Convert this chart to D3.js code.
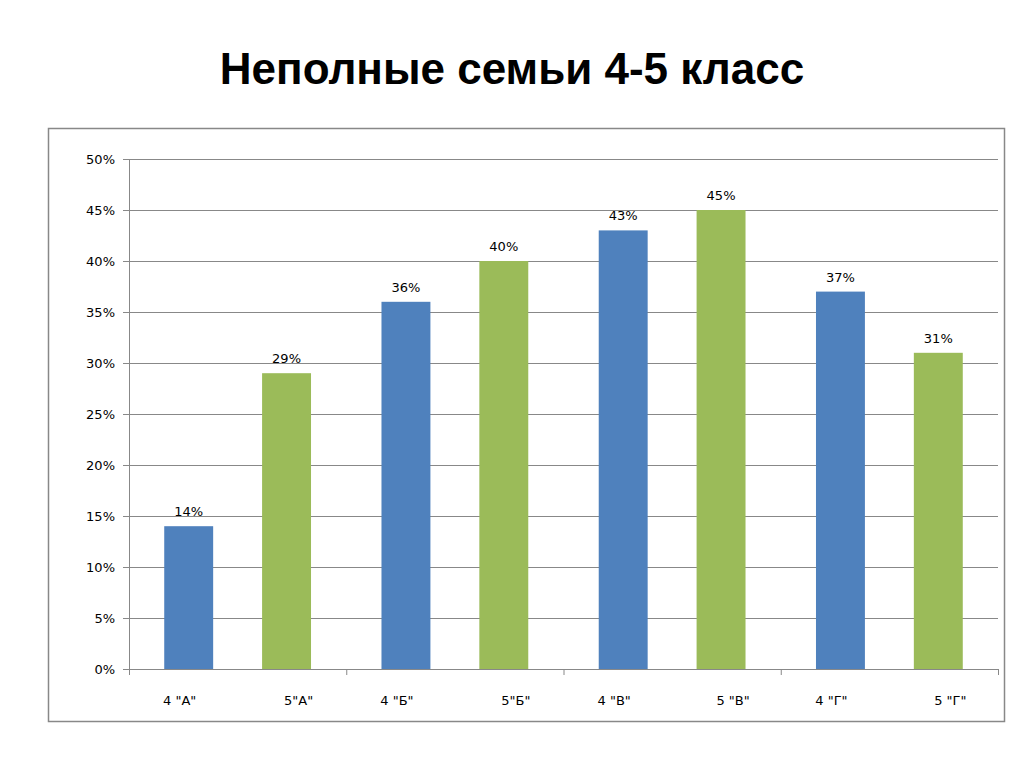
<!DOCTYPE html>
<html><head><meta charset="utf-8">
<script src="https://cdn.jsdelivr.net/npm/d3@7"></script>
<style>body{margin:0;background:#fff}</style></head>
<body><svg id="c" width="1024" height="767"></svg>
<script>
const groups = ["А","Б","В","Г"];
const labels4 = ['4 "А"','4 "Б"','4 "В"','4 "Г"'];
const labels5 = ['5"А"','5"Б"','5 "В"','5 "Г"'];
const values4 = [14, 36, 43, 37];
const values5 = [29, 40, 45, 31];
const yTicks = [0,5,10,15,20,25,30,35,40,45,50];

const svg = d3.select("#c");
svg.append("text").attr("x",512).attr("y",84).attr("text-anchor","middle")
  .attr("font-family","Liberation Sans, Arial").attr("font-weight","bold").attr("font-size",44)
  .text("Неполные семьи 4-5 класс");
svg.append("rect").attr("x",48.5).attr("y",128.5).attr("width",956).attr("height",593)
  .attr("fill","none").attr("stroke","#888").attr("stroke-width",1.5);

const L=129,R=998,T=159,B=669;
const y = d3.scaleLinear().domain([0,50]).range([B,T]);
const x0 = d3.scaleBand().domain(groups).range([L,R]);
const x1 = d3.scaleBand().domain(["4","5"]).range([0,x0.bandwidth()]).paddingInner(0.5).paddingOuter(0.36);
const font="DejaVu Sans, Verdana, sans-serif";

svg.append("g").selectAll("line").data(yTicks).join("line")
  .attr("x1",L-6).attr("x2",R).attr("y1",d=>y(d)+0.5).attr("y2",d=>y(d)+0.5)
  .attr("stroke",d=>d===0?"#888":"#888").attr("stroke-width",1);
svg.append("g").selectAll("text").data(yTicks).join("text")
  .attr("x",L-14).attr("y",d=>y(d)+5).attr("text-anchor","end")
  .attr("font-family",font).attr("font-size",13).text(d=>d+"%");
svg.append("line").attr("x1",L+0.5).attr("x2",L+0.5).attr("y1",T).attr("y2",B+6).attr("stroke","#888");
const gb=[...groups.map(g=>x0(g)),R];
svg.append("g").selectAll("line").data(gb).join("line")
  .attr("x1",d=>d+0.5).attr("x2",d=>d+0.5).attr("y1",B).attr("y2",B+6).attr("stroke","#888");

const series=[{k:"4",v:values4,l:labels4,c:"#4f81bd",o:-9},{k:"5",v:values5,l:labels5,c:"#9bbb59",o:12}];
series.forEach(s=>{
  const g=svg.append("g");
  g.selectAll("rect").data(groups).join("rect")
    .attr("x",(d)=>x0(d)+x1(s.k)).attr("width",x1.bandwidth())
    .attr("y",(d,i)=>y(s.v[i])).attr("height",(d,i)=>B-y(s.v[i])).attr("fill",s.c);
  g.selectAll("text.v").data(groups).join("text").attr("class","v")
    .attr("x",d=>x0(d)+x1(s.k)+x1.bandwidth()/2).attr("y",(d,i)=>y(s.v[i])-10)
    .attr("text-anchor","middle").attr("font-family",font).attr("font-size",13)
    .text((d,i)=>s.v[i]+"%");
  g.selectAll("text.l").data(groups).join("text").attr("class","l")
    .attr("x",d=>x0(d)+x1(s.k)+x1.bandwidth()/2+s.o).attr("y",B+36)
    .attr("text-anchor","middle").attr("font-family",font).attr("font-size",13)
    .text((d,i)=>s.l[i]);
});
</script></body></html>
